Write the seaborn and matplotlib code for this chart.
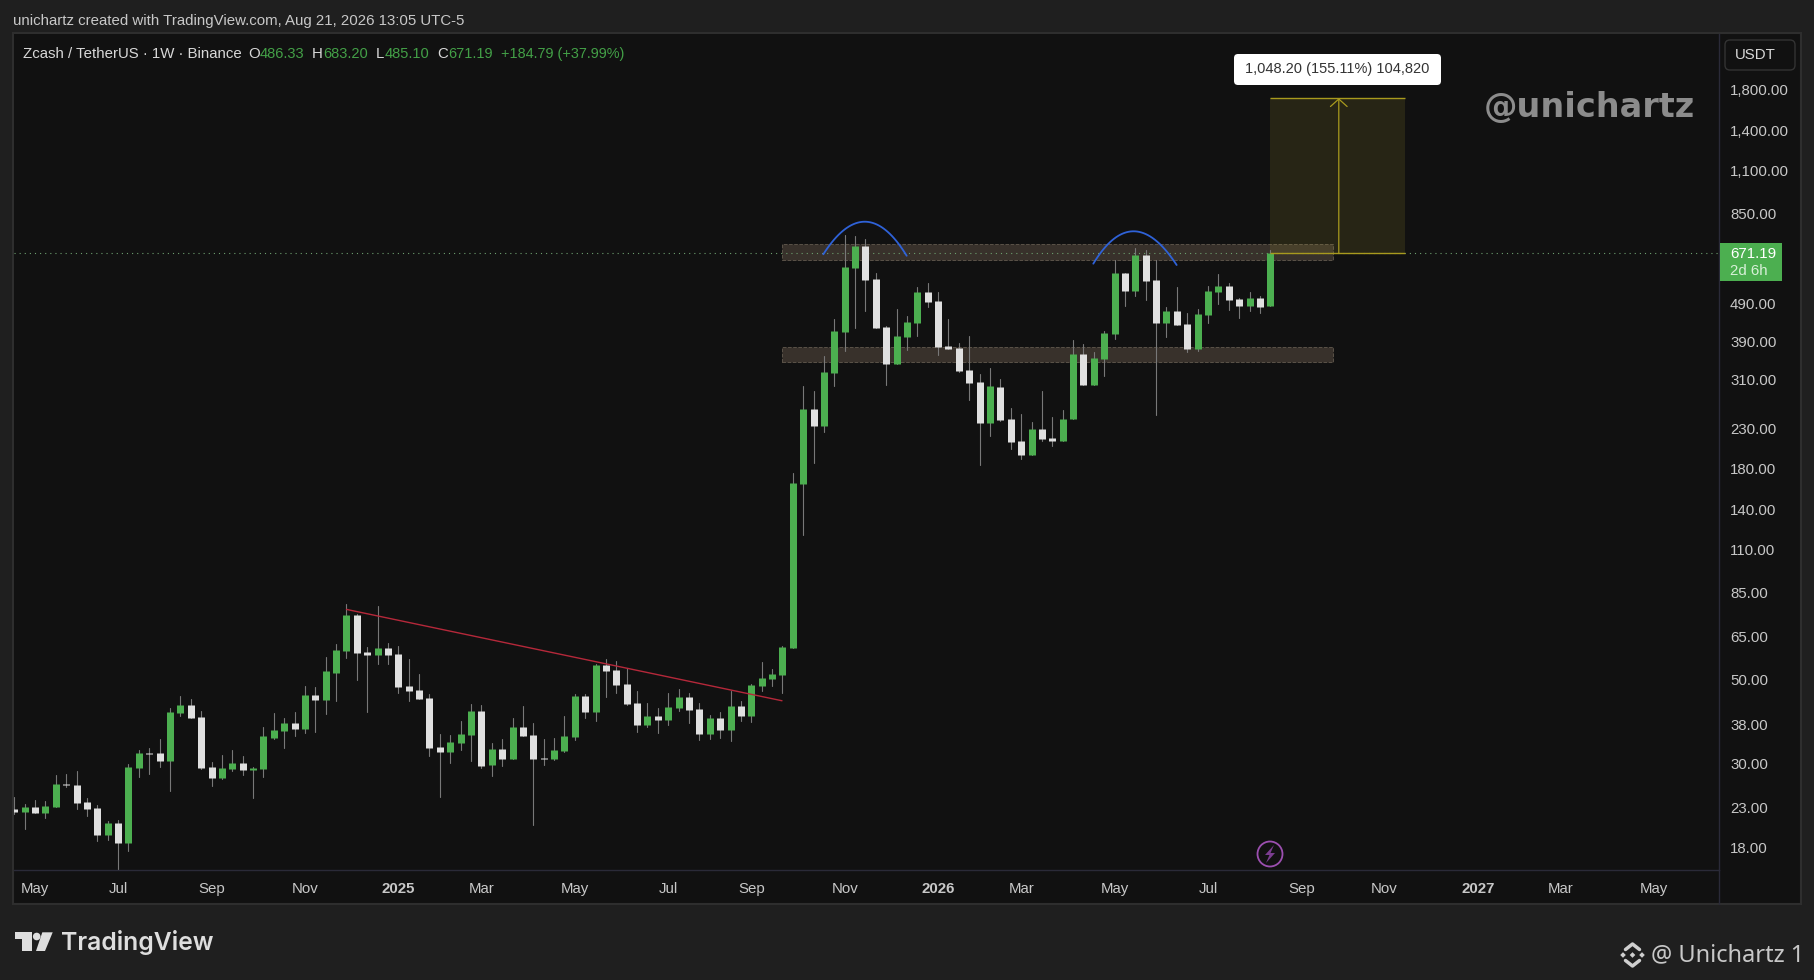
import numpy as np
import pandas as pd
import matplotlib
matplotlib.use("Agg")
import matplotlib.pyplot as plt
from matplotlib.patches import Rectangle, FancyBboxPatch, Circle, Polygon
from matplotlib.lines import Line2D
from matplotlib.ticker import NullLocator
from matplotlib.transforms import Affine2D, ScaledTranslation
import seaborn as sns

# weekly candles, oldest first
opens = [22.9, 22.49, 23.18, 22.35, 23.18, 26.66, 26.49, 23.89, 23.04, 19.55, 21.03, 18.63, 29.38, 32.18, 32.18, 30.65,
         41.03, 43.08, 40.05, 29.56, 27.65, 29.2, 30.28, 29.02, 29.2, 35.25, 36.78, 38.61, 37.23, 45.77, 44.4, 52.32,
         59.8, 74.42, 59.44, 58.37, 60.9, 58.72, 48.35, 47.19, 44.95, 33.37, 32.38, 34.2, 35.9, 41.53, 29.92, 32.97,
         31.03, 37.69, 35.9, 31.22, 31.03, 32.57, 35.47, 45.5, 41.28, 54.93, 53.28, 48.94, 43.6, 38.15, 40.29, 39.32,
         42.3, 45.22, 42.04, 36.12, 39.8, 37.01, 42.81, 40.29, 48.35, 50.45, 51.69, 60.9, 164.9, 260.2, 234.6, 323.8,
         415.3, 612.7, 700.4, 573.1, 428.1, 342, 402.9, 438.7, 529.6, 501.4, 381.5, 376.9, 329.7, 306.5, 238.9, 297.4,
         244.8, 214.2, 196.7, 230.4, 218.1, 214.2, 244.8, 363.4, 301, 352.5, 410.3, 594.4, 532.8, 663.1, 569.6, 438.7,
         471.9, 436, 374.6, 460.5, 529.6, 549.3, 507.5, 486.4, 510.6, 486.33]
highs = [24.63, 23.61, 24.19, 24.04, 28.15, 28.33, 28.85, 24.48, 23.46, 21.29, 21.42, 30.1, 32.77, 33.17, 35.04, 42.3,
         45.5, 44.67, 41.53, 30.47, 31.79, 32.77, 31.6, 29.56, 37.69, 41.03, 39.8, 41.28, 48.35, 48.05, 57.66, 62.4,
         79.57, 74.88, 61.15, 78.6, 62.78, 61.65, 56.96, 52, 46.05, 36.12, 35.9, 39.09, 43.34, 43.08, 34.2, 35.04,
         39.8, 42.81, 38.61, 35.04, 35.25, 40.29, 46.05, 46.05, 55.26, 56.96, 56.28, 53.93, 46.9, 43.6, 42.3, 46.33,
         47.47, 46.33, 43.6, 40.54, 41.28, 46.9, 44.14, 48.94, 55.94, 53.61, 61.65, 176.3, 299.2, 290.2, 359, 449.5,
         748.8, 744.2, 730.8, 594.4, 430.8, 477.6, 457.7, 545.9, 559.4, 529.6, 449.5, 388.5, 405.4, 321.8, 333.7, 312.2,
         261.7, 252.4, 240.4, 290.2, 247.8, 258.6, 395.6, 386.1, 367.8, 417.9, 643.2, 594.4, 691.9, 683.5, 643.2, 483.5,
         545.9, 466.2, 477.6, 549.3, 590.8, 559.4, 510.6, 529.6, 516.9, 683.2]
lows = [22.21, 20.28, 22.35, 21.68, 23.18, 26.17, 22.9, 21.95, 18.85, 18.97, 15.9, 17.74, 27.81, 28.33, 29.56, 25.55,
        40.29, 39.8, 29.2, 26.33, 27.48, 28.85, 28.15, 24.48, 27.81, 35.04, 33.17, 35.68, 36.34, 36.56, 40.78, 44.14,
        57.31, 50.14, 41.28, 55.26, 55.26, 46.33, 44.14, 44.67, 31.6, 24.63, 30.28, 32.77, 30.65, 29.38, 27.98, 29.74,
        31.03, 35.68, 20.78, 29.92, 30.84, 32.38, 34.82, 39.8, 39.09, 45.22, 46.33, 43.08, 36.56, 37.69, 36.34, 38.15,
        41.53, 38.61, 34.82, 35.04, 35.25, 34.61, 39.09, 38.85, 46.9, 48.35, 46.33, 60.9, 121, 187.4, 226.2, 299.2,
        370.1, 425.6, 471.9, 425.6, 301, 342, 372.3, 405.4, 483.5, 361.2, 374.6, 325.7, 274.8, 185.1, 220.8, 241.9,
        204, 192, 196.7, 214.2, 207.8, 214.2, 244.8, 301, 301, 317.9, 398, 486.4, 516.9, 504.5, 250.8, 402.9,
        433.4, 367.8, 370.1, 438.7, 492.4, 474.7, 452.2, 471.9, 466.2, 485.1]
closes = [22.49, 23.18, 22.35, 23.32, 26.66, 26.49, 23.75, 22.9, 19.55, 21.03, 18.63, 29.56, 32.18, 31.98, 30.65, 41.28,
          43.08, 39.8, 29.38, 27.65, 29.38, 30.28, 29.02, 29.38, 35.68, 37.01, 38.61, 37.23, 45.77, 44.4, 52.96, 60.17,
          74.42, 59.08, 58.37, 60.9, 58.37, 48.05, 46.9, 44.67, 33.17, 32.38, 34.4, 36.12, 41.53, 29.74, 32.97, 31.03,
          37.69, 35.68, 31.03, 31.03, 32.77, 35.68, 45.5, 41.28, 54.93, 52.96, 48.64, 43.34, 38.15, 40.29, 39.32, 42.56,
          45.22, 41.79, 36.12, 39.8, 37.01, 42.81, 40.29, 48.64, 50.75, 52.0, 61.27, 166.0, 260.2, 234.6, 325.7, 417.9,
          616.5, 700.4, 569.6, 425.6, 342.0, 405.4, 441.4, 529.6, 498.4, 379.2, 374.6, 327.7, 304.7, 238.9, 299.2, 243.3,
          212.9, 196.7, 230.4, 216.8, 214.2, 244.8, 363.4, 301.0, 354.7, 412.8, 594.4, 532.8, 663.1, 566.2, 438.7, 471.9,
          433.4, 374.6, 463.3, 532.8, 549.3, 504.5, 486.4, 510.6, 483.5, 671.19]

week_ticks = [2, 10, 19, 28, 37, 45, 54, 63, 71, 80, 89, 97, 106, 115, 124, 132, 141, 149, 158]
week_labels = ["May", "Jul", "Sep", "Nov", "2025", "Mar", "May", "Jul", "Sep", "Nov", "2026", "Mar", "May", "Jul",
               "Sep", "Nov", "2027", "Mar", "May"]
price_ticks = [1800, 1400, 1100, 850, 490, 390, 310, 230, 180, 140, 110, 85, 65, 50, 38, 30, 23, 18]

# drawings on the chart
resistance_zone = [643.3, 708.9]
support_zone = [346.1, 379.2]
zone_weeks = [74, 127]
trend_weeks = [32.0, 73.96]
trend_prices = [77.0, 44.2]
arc1_weeks = [77.94, 81.98, 85.97]
arc1_prices = [666, 811.7, 660]
arc2_weeks = [103.95, 107.87, 111.98]
arc2_prices = [629, 765.8, 624]
target_weeks = [121, 127.6, 134]
target_prices = [671.19, 1719.39]
last_price = 671.19

BG = "#1f1f1f"
PANEL = "#111111"
FRAME = "#2e2e2e"
SEP = "#2a2a38"
GREEN = "#4caf50"
WHITE = "#e0e0e0"
WICK = "#787878"
TXT = "#c8c8c8"
HG = "#43a047"

sns.set_theme(style="dark", rc={"axes.facecolor": PANEL, "figure.facecolor": BG})
plt.rcParams["font.family"] = ["Liberation Sans", "DejaVu Sans"]

fig = plt.figure(figsize=(18.14, 9.8), dpi=100)
pix = Affine2D().scale(1, -1).translate(0, 980)  # pixel coords for the page furniture
ax = fig.add_axes([13.7 / 1814, 1 - 870 / 980, (1719 - 13.7) / 1814, (870 - 34) / 980])
ax.set_yscale("log")
fig.add_artist(Rectangle((13, 33), 1788, 871, fc=PANEL, ec=FRAME, lw=1.5, transform=pix, zorder=-1))

weeks = np.arange(len(opens))
direction = np.where(np.array(closes) >= np.array(opens), "up", "down")
wicks = pd.DataFrame({"week": np.tile(weeks, 2), "price": highs + lows})
bodies = pd.DataFrame({"week": np.tile(weeks, 2), "price": opens + closes, "dir": np.tile(direction, 2)})

for zone in (resistance_zone, support_zone):
    ax.add_patch(Rectangle((zone_weeks[0], zone[0]), zone_weeks[1] - zone_weeks[0], zone[1] - zone[0],
                           fc="#38312b", ec="#5a5248", ls="--", lw=0.7, zorder=1))
ax.add_patch(Rectangle((target_weeks[0], target_prices[0]), target_weeks[2] - target_weeks[0],
                       target_prices[1] - target_prices[0], fc="#b0a030", alpha=0.14, lw=0, zorder=1.5))
ax.axhline(last_price, color="#6d9f6f", ls=(0, (1, 3.6)), lw=0.8, zorder=2)

sns.lineplot(data=wicks, x="week", y="price", units="week", estimator=None, color=WICK, lw=0.8,
             sort=False, legend=False, zorder=3, ax=ax)
sns.lineplot(data=bodies, x="week", y="price", units="week", hue="dir", estimator=None,
             palette={"up": GREEN, "down": WHITE}, lw=5.04, solid_capstyle="butt",
             sort=False, legend=False, zorder=3.1, ax=ax)

sns.lineplot(x=trend_weeks, y=trend_prices, color="#b5283a", lw=1.0, sort=False, zorder=4, ax=ax)
for wk, pr in ((arc1_weeks, arc1_prices), (arc2_weeks, arc2_prices)):
    # curve through the three points
    t = np.linspace(0, 1, 40)
    lp = np.log10(pr)
    ctrl = 2 * lp[1] - (lp[0] + lp[2]) / 2
    cx = 2 * wk[1] - (wk[0] + wk[2]) / 2
    xs = (1 - t) ** 2 * wk[0] + 2 * t * (1 - t) * cx + t ** 2 * wk[2]
    ys = 10 ** ((1 - t) ** 2 * lp[0] + 2 * t * (1 - t) * ctrl + t ** 2 * lp[2])
    sns.lineplot(x=xs, y=ys, color="#2f62d8", lw=1.3, sort=False, zorder=4, ax=ax)

ax.hlines(target_prices, target_weeks[0], target_weeks[2], color="#a89a1e", lw=1.0, zorder=4)
ax.annotate("", xy=(target_weeks[1], target_prices[1]), xytext=(target_weeks[1], target_prices[0]),
            arrowprops=dict(arrowstyle="->,head_length=0.45,head_width=0.5", color="#a89a1e", lw=0.9,
                            mutation_scale=12, shrinkA=0, shrinkB=0), zorder=4)

ax.set_xlim((13.7 - 14.3) / 10.38, (1719 - 14.3) / 10.38)
ax.set_ylim(671.19 * 10 ** ((253 - 870) / 379), 671.19 * 10 ** ((253 - 34) / 379))
ax.set_xlabel("")
ax.set_ylabel("")
ax.yaxis.tick_right()
ax.yaxis.set_minor_locator(NullLocator())
ax.set_yticks(price_ticks, [f"{v:,.2f}" for v in price_ticks])
ax.set_xticks(week_ticks, week_labels)
ax.tick_params(axis="y", length=0, pad=8, labelsize=10.8, labelcolor=TXT)
ax.tick_params(axis="x", length=0, pad=8.7, labelsize=10.8, labelcolor=TXT)
for lb in ax.get_yticklabels():
    lb.set_transform(lb.get_transform() + ScaledTranslation(0, 1 / 100, fig.dpi_scale_trans))
for lb in ax.get_xticklabels():
    if lb.get_text().startswith("20"):
        lb.set_fontweight("bold")
ax.grid(False)
for s in ("top", "left"):
    ax.spines[s].set_visible(False)
for s in ("right", "bottom"):
    ax.spines[s].set_color(SEP)
    ax.spines[s].set_linewidth(1.0)
fig.add_artist(Line2D([1719, 1719], [870, 904], color=SEP, lw=1.0, transform=pix))


def label(x, y, s, color=TXT, size=10.8, **kw):
    kw.setdefault("ha", "left")
    fig.text(x, y, s, color=color, size=size, va="center", transform=pix, zorder=6, **kw)


label(13, 20.5, "unichartz created with TradingView.com, Aug 21, 2026 13:05 UTC-5")
label(23, 54, "Zcash / TetherUS · 1W · Binance", color="#d8d8d8")
for x, s in ((248, "O"), (312, "H"), (376, "L"), (437, "C")):
    label(x, 54, s, color="#d8d8d8")
for x, s in ((260, "486.33"), (323, "683.20"), (385, "485.10"), (448, "671.19")):
    label(x, 54, s, color=HG, size=10.5)
label(501, 54, "+184.79 (+37.99%)", color=HG, size=10.4)

label(1484, 107, "@unichartz", color="#8c8c8c", size=24.1, fontweight="bold", family=["DejaVu Sans"])

fig.add_artist(FancyBboxPatch((1725, 40), 70, 30, boxstyle="round,pad=0,rounding_size=5", fc=PANEL, ec="#333333",
                              lw=1, transform=pix, zorder=5))
label(1735, 55, "USDT", color="#d8d8d8")

fig.add_artist(Rectangle((1720, 243), 62, 38, fc=GREEN, lw=0, transform=pix, zorder=5))
label(1730, 254, "671.19", color="white")
label(1730, 271, "2d 6h", color="#d8f0d8")

fig.add_artist(FancyBboxPatch((1234, 54), 207, 31, boxstyle="round,pad=0,rounding_size=4", fc="white", lw=0,
                              transform=pix, zorder=5))
label(1337.5, 69, "1,048.20 (155.11%) 104,820", color="#333333", size=10.5, ha="center")

# replay icon
fig.add_artist(Circle((1270, 854), 12.5, fc="none", ec="#9c4fb0", lw=1.3, transform=pix, zorder=5))
fig.add_artist(Polygon([(1274, 845), (1265, 855), (1269.5, 855), (1266, 863), (1275, 853), (1270.5, 853)],
                       fc="#7b3d90", lw=0, transform=pix, zorder=5))

# TradingView mark
LOGO = "#dedede"
fig.add_artist(Polygon([(15, 932.3), (31.7, 932.3), (31.7, 951), (21.7, 951), (21.7, 939), (15, 939)],
                       fc=LOGO, lw=0, transform=pix))
fig.add_artist(Circle((36.7, 936.5), 3.8, fc=LOGO, lw=0, transform=pix))
fig.add_artist(Polygon([(42.3, 932.3), (52.7, 932.3), (45, 951), (36, 951)], fc=LOGO, lw=0, transform=pix))
label(61, 942, "TradingView", color=LOGO, size=17.8, family=["Inter", "DejaVu Sans"], fontweight="semibold")

# Binance mark
BN = "#cfcfcf"
cx0, cy0 = 1632.5, 955
for dx in (0, -9.5, 9.5):
    fig.add_artist(Polygon([(cx0 + dx - 2.8, cy0), (cx0 + dx, cy0 - 2.8), (cx0 + dx + 2.8, cy0), (cx0 + dx, cy0 + 2.8)],
                           fc=BN, lw=0, transform=pix))
for sg in (-1, 1):
    fig.add_artist(Line2D([cx0 - 7, cx0, cx0 + 7], [cy0 + sg * 5.5, cy0 + sg * 11, cy0 + sg * 5.5],
                          color=BN, lw=2.5, transform=pix))
label(1651, 955, "@ Unichartz 1", color="#c8c8c8", size=17, family=["Noto Sans", "DejaVu Sans"])

fig.savefig("out.png", dpi=100, facecolor=BG)
